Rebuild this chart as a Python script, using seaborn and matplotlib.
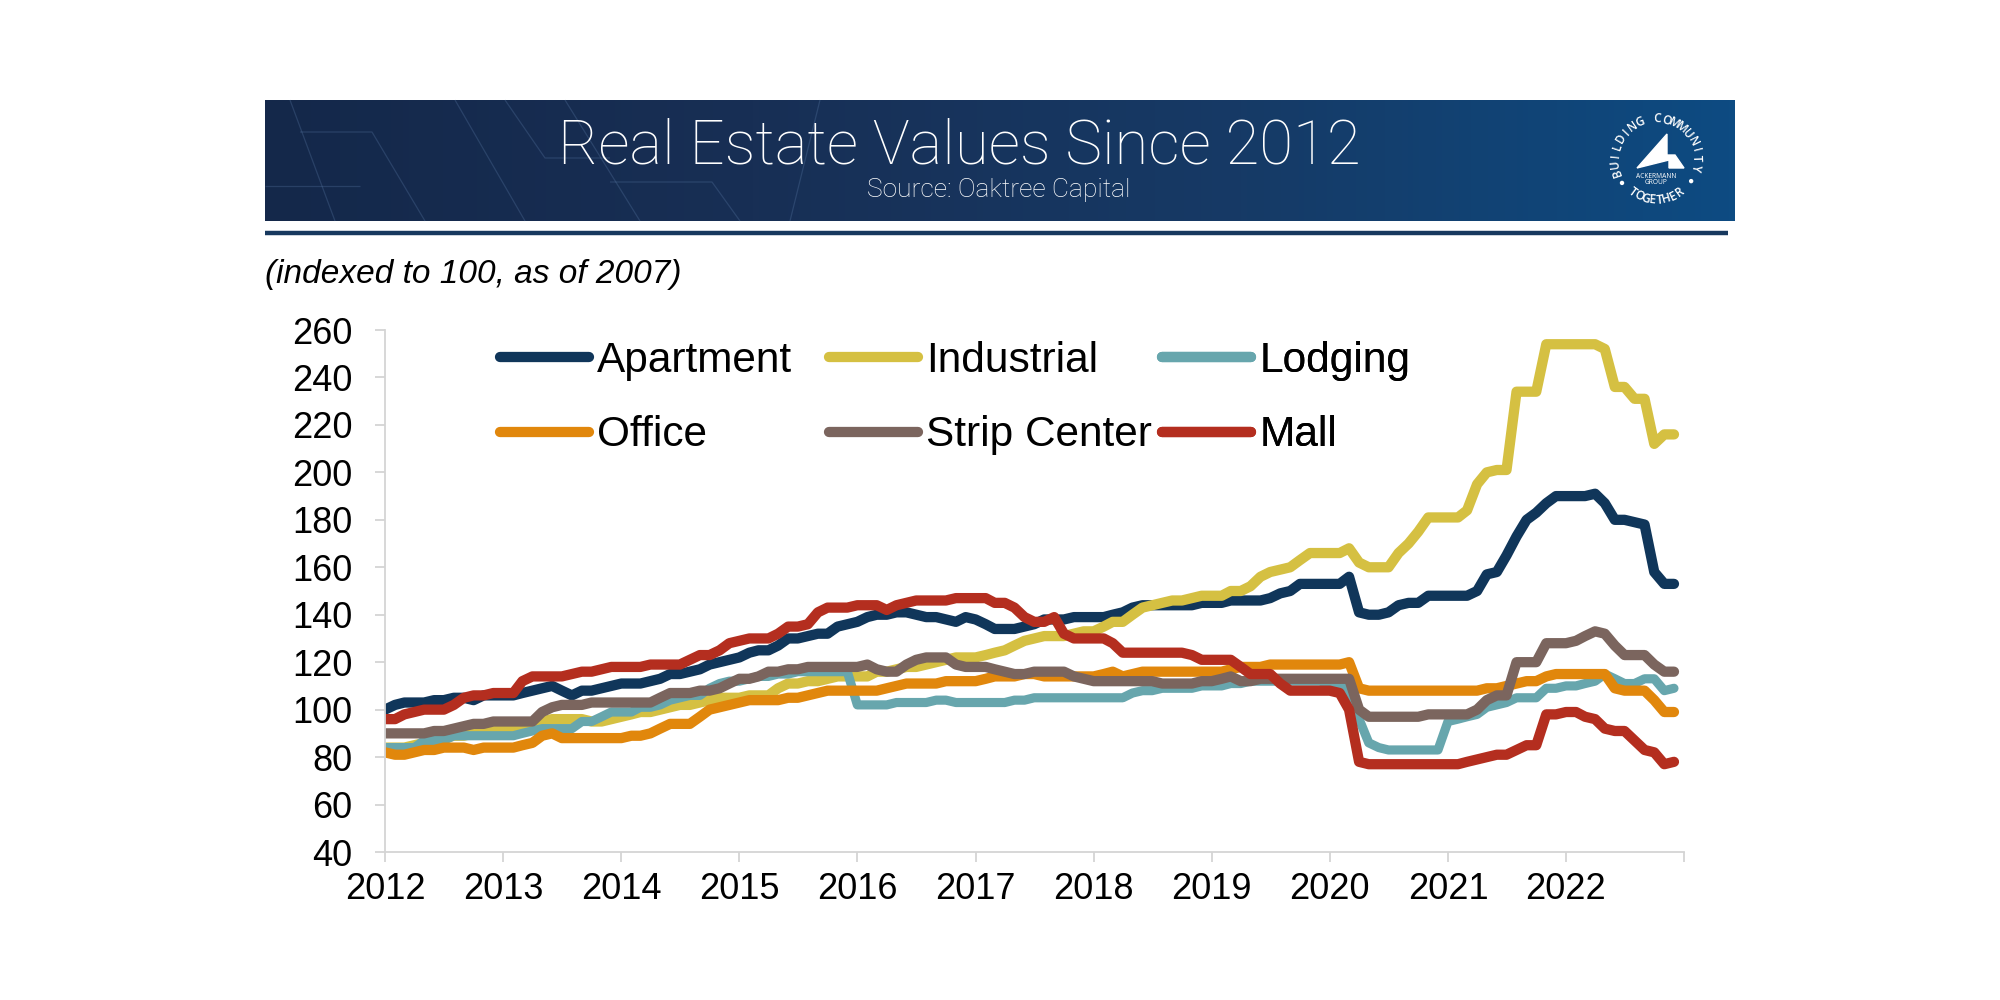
import numpy as np
import pandas as pd
import seaborn as sns
import matplotlib.pyplot as plt
from matplotlib.colors import LinearSegmentedColormap
from matplotlib.patches import Polygon, Circle

# monthly index values, Jan 2012 .. Dec 2022 (indexed to 100 as of 2007)
months = pd.date_range("2012-01-01", "2022-12-01", freq="MS")

apartment = [
    100, 102, 103, 103, 103, 104, 104, 105, 105, 104, 106, 106,
    106, 106, 107, 108, 109, 110, 108, 106, 108, 108, 109, 110,
    111, 111, 111, 112, 113, 115, 115, 116, 117, 119, 120, 121,
    122, 124, 125, 125, 127, 130, 130, 131, 132, 132, 135, 136,
    137, 139, 140, 140, 141, 141, 140, 139, 139, 138, 137, 139,
    138, 136, 134, 134, 134, 135, 136, 138, 138, 138, 139, 139,
    139, 139, 140, 141, 143, 144, 144, 144, 144, 144, 144, 145,
    145, 145, 146, 146, 146, 146, 147, 149, 150, 153, 153, 153,
    153, 153, 156, 141, 140, 140, 141, 144, 145, 145, 148, 148,
    148, 148, 148, 150, 157, 158, 165, 173, 180, 183, 187, 190,
    190, 190, 190, 191, 187, 180, 180, 179, 178, 158, 153, 153]

industrial = [
    84, 84, 84, 85, 86, 87, 88, 89, 89, 90, 90, 91,
    91, 91, 92, 94, 95, 96, 96, 96, 96, 95, 95, 96,
    97, 98, 99, 99, 100, 101, 102, 102, 103, 104, 105, 105,
    105, 106, 106, 106, 109, 111, 111, 112, 112, 113, 114, 114,
    114, 114, 116, 116, 117, 118, 118, 119, 120, 121, 122, 122,
    122, 123, 124, 125, 127, 129, 130, 131, 131, 131, 132, 133,
    133, 135, 137, 137, 140, 143, 144, 145, 146, 146, 147, 148,
    148, 148, 150, 150, 152, 156, 158, 159, 160, 163, 166, 166,
    166, 166, 168, 162, 160, 160, 160, 166, 170, 175, 181, 181,
    181, 181, 184, 195, 200, 201, 201, 234, 234, 234, 254, 254,
    254, 254, 254, 254, 252, 236, 236, 231, 231, 212, 216, 216]

lodging = [
    84, 84, 84, 84, 87, 87, 87, 89, 89, 89, 89, 89,
    89, 89, 90, 91, 92, 92, 92, 92, 95, 95, 97, 99,
    99, 99, 101, 101, 102, 104, 105, 106, 106, 109, 111, 112,
    112, 113, 114, 114, 115, 115, 116, 116, 116, 116, 116, 116,
    102, 102, 102, 102, 103, 103, 103, 103, 104, 104, 103, 103,
    103, 103, 103, 103, 104, 104, 105, 105, 105, 105, 105, 105,
    105, 105, 105, 105, 107, 108, 108, 109, 109, 109, 109, 110,
    110, 110, 111, 111, 112, 112, 112, 112, 112, 112, 112, 112,
    111, 111, 107, 96, 86, 84, 83, 83, 83, 83, 83, 83,
    95, 96, 97, 98, 101, 102, 103, 105, 105, 105, 109, 109,
    110, 110, 111, 112, 115, 113, 111, 111, 113, 113, 108, 109]

office = [
    82, 81, 81, 82, 83, 83, 84, 84, 84, 83, 84, 84,
    84, 84, 85, 86, 89, 90, 88, 88, 88, 88, 88, 88,
    88, 89, 89, 90, 92, 94, 94, 94, 97, 100, 101, 102,
    103, 104, 104, 104, 104, 105, 105, 106, 107, 108, 108, 108,
    108, 108, 108, 109, 110, 111, 111, 111, 111, 112, 112, 112,
    112, 113, 114, 114, 114, 115, 115, 114, 114, 114, 114, 114,
    114, 115, 116, 114, 115, 116, 116, 116, 116, 116, 116, 116,
    116, 116, 117, 118, 118, 118, 119, 119, 119, 119, 119, 119,
    119, 119, 120, 109, 108, 108, 108, 108, 108, 108, 108, 108,
    108, 108, 108, 108, 109, 109, 110, 111, 112, 112, 114, 115,
    115, 115, 115, 115, 115, 109, 108, 108, 108, 104, 99, 99]

strip_center = [
    90, 90, 90, 90, 90, 91, 91, 92, 93, 94, 94, 95,
    95, 95, 95, 95, 99, 101, 102, 102, 102, 103, 103, 103,
    103, 103, 103, 103, 105, 107, 107, 107, 108, 108, 109, 111,
    113, 113, 114, 116, 116, 117, 117, 118, 118, 118, 118, 118,
    118, 119, 117, 116, 116, 119, 121, 122, 122, 122, 119, 118,
    118, 118, 117, 116, 115, 115, 116, 116, 116, 116, 114, 113,
    112, 112, 112, 112, 112, 112, 112, 111, 111, 111, 111, 112,
    112, 113, 114, 112, 112, 113, 113, 113, 113, 113, 113, 113,
    113, 113, 113, 100, 97, 97, 97, 97, 97, 97, 98, 98,
    98, 98, 98, 100, 104, 106, 106, 120, 120, 120, 128, 128,
    128, 129, 131, 133, 132, 127, 123, 123, 123, 119, 116, 116]

mall = [
    96, 96, 98, 99, 100, 100, 100, 102, 105, 106, 106, 107,
    107, 107, 112, 114, 114, 114, 114, 115, 116, 116, 117, 118,
    118, 118, 118, 119, 119, 119, 119, 121, 123, 123, 125, 128,
    129, 130, 130, 130, 132, 135, 135, 136, 141, 143, 143, 143,
    144, 144, 144, 142, 144, 145, 146, 146, 146, 146, 147, 147,
    147, 147, 145, 145, 143, 139, 137, 137, 139, 132, 130, 130,
    130, 130, 128, 124, 124, 124, 124, 124, 124, 124, 123, 121,
    121, 121, 121, 118, 115, 115, 115, 111, 108, 108, 108, 108,
    108, 107, 100, 78, 77, 77, 77, 77, 77, 77, 77, 77,
    77, 77, 78, 79, 80, 81, 81, 83, 85, 85, 98, 98,
    99, 99, 97, 96, 92, 91, 91, 87, 83, 82, 77, 78]

series_names = ["Apartment", "Industrial", "Lodging", "Office", "Strip Center", "Mall"]
series_values = [apartment, industrial, lodging, office, strip_center, mall]
series_colors = ["#10365a", "#d5c042", "#67a6ad", "#e1870c", "#7b655e", "#b42e1f"]
year_ticks = list(range(2012, 2024))

sns.set_theme(style="white")
plt.rcParams["font.family"] = ["Liberation Sans", "DejaVu Sans"]
plt.rcParams["lines.solid_capstyle"] = "round"
plt.rcParams["lines.solid_joinstyle"] = "round"

fig = plt.figure(figsize=(20, 10), dpi=100)
fig.patch.set_facecolor("white")

# ---- header banner drawn in pixel coordinates
bg = fig.add_axes([0, 0, 1, 1])
bg.set_xlim(0, 2000)
bg.set_ylim(1000, 0)
bg.axis("off")

cmap = LinearSegmentedColormap.from_list("banner", ["#14284a", "#182f55", "#163a66", "#0d4b82"])
grad = np.linspace(0, 1, 256).reshape(1, -1)
bg.imshow(grad, extent=[265, 1735, 221, 100], aspect="auto", cmap=cmap, zorder=0)

deco = [
    [(290, 100), (335, 221)],
    [(300, 132), (372, 132), (425, 221)],
    [(265, 186), (360, 186)],
    [(455, 100), (525, 221)],
    [(505, 100), (545, 158), (610, 158)],
    [(565, 100), (640, 221)],
    [(610, 182), (712, 182), (740, 221)],
    [(820, 100), (790, 221)],
]
for seg in deco:
    xs, ys = zip(*seg)
    bg.plot(xs, ys, color="#5a7aa6", alpha=0.3, lw=0.9, solid_capstyle="butt", zorder=1)

bg.plot([265, 1728], [233, 233], color="#17385e", lw=3.2, solid_capstyle="butt")

bg.text(959, 146, "Real Estate Values Since 2012", color="white", fontsize=44.5,
        family=["Roboto", "DejaVu Sans"], weight="light", ha="center", va="center")
bg.text(999, 190, "Source: Oaktree Capital", color="white", fontsize=19,
        family=["Roboto", "DejaVu Sans"], weight="light", ha="center", va="center")

# logo
cx, cy = 1656, 160
for ch, th in zip("BUILDING COMMUNITY", np.linspace(198, -10, 18)):
    if ch == " ":
        continue
    t = np.radians(th)
    bg.text(cx + 41 * np.cos(t), cy - 41 * np.sin(t), ch, color="white", fontsize=8.5,
            family=["Open Sans", "DejaVu Sans"], weight="semibold", rotation=th - 90,
            ha="center", va="center", rotation_mode="anchor")
for ch, th in zip("TOGETHER", np.linspace(234, 306, 8)):
    t = np.radians(th)
    bg.text(cx + 40 * np.cos(t), cy - 40 * np.sin(t), ch, color="white", fontsize=8.5,
            family=["Open Sans", "DejaVu Sans"], weight="semibold", rotation=th + 90,
            ha="center", va="center", rotation_mode="anchor")
for th in (214, 329):
    t = np.radians(th)
    bg.add_patch(Circle((cx + 41 * np.cos(t), cy - 41 * np.sin(t)), 1.5, color="white"))
bg.add_patch(Polygon([(1637, 168), (1667, 134), (1667, 155), (1675, 155), (1684, 168), (1669, 168), (1669, 160)],
                     closed=True, color="white"))
bg.text(cx, 176, "ACKERMANN", color="white", fontsize=4.8, ha="center", va="center",
        family=["Open Sans", "DejaVu Sans"])
bg.text(cx, 182.5, "GROUP", color="white", fontsize=4.8, ha="center", va="center",
        family=["Open Sans", "DejaVu Sans"])

bg.text(265, 274, "(indexed to 100, as of 2007)", fontsize=24, style="italic",
        ha="left", va="center", color="black")

# ---- chart
ax = fig.add_axes([0.1925, 0.148, 0.6495, 0.522])
for name, vals, col in zip(series_names, series_values, series_colors):
    sns.lineplot(x=months, y=vals, ax=ax, color=col, lw=6.6 if name == "Lodging" else 7.4,
                 label=name, legend=False)

ax.set_ylim(40, 260)
ax.set_yticks(range(40, 261, 20))
ax.set_xlim(pd.Timestamp("2012-01-01"), pd.Timestamp("2023-01-01"))
ax.set_xticks([pd.Timestamp(f"{y}-01-01") for y in year_ticks])
ax.set_xticklabels([str(y) if y < 2023 else "" for y in year_ticks])
ax.set_xlabel("")
ax.set_ylabel("")

for side in ["top", "right"]:
    ax.spines[side].set_visible(False)
for side in ["left", "bottom"]:
    ax.spines[side].set_color("#d4d4d4")
    ax.spines[side].set_linewidth(1.3)
ax.tick_params(axis="both", which="major", length=7.5, width=1.3, color="#d4d4d4",
               labelsize=26, labelcolor="black", left=True, bottom=True)
ax.tick_params(axis="y", pad=16)
ax.tick_params(axis="x", pad=7)

# legend: three equal-width columns like the Excel original
lines = {ln.get_label(): ln for ln in ax.get_lines()}
legend_cols = [["Apartment", "Office"], ["Industrial", "Strip Center"], ["Lodging", "Mall"]]
col_x = [0.0885, 0.3418, 0.5985]
for names, x0 in zip(legend_cols, col_x):
    leg = ax.legend([lines[n] for n in names], names, loc="center left",
                    bbox_to_anchor=(x0, 0.8695), frameon=False, fontsize=30.5,
                    handlelength=2.1, handletextpad=0.2, labelspacing=0.82,
                    borderpad=0, borderaxespad=0)
    for txt in leg.get_texts():
        txt.set_color("black")
    for ln in leg.get_lines():
        ln.set_linewidth(7.4)
    ax.add_artist(leg)

fig.savefig("out.png", dpi=100, facecolor="white")
